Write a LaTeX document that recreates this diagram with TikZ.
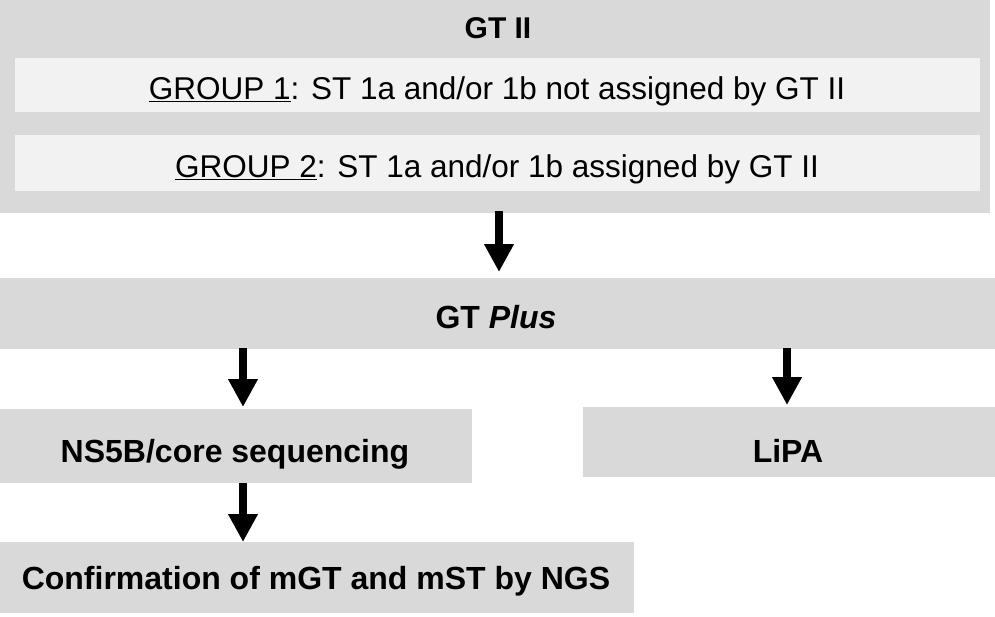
\documentclass[tikz,border=0pt]{standalone}
\usepackage{fontspec}
\setmainfont{Liberation Sans}
\usetikzlibrary{arrows.meta}
\definecolor{outergray}{HTML}{D9D9D9}
\definecolor{innergray}{HTML}{F2F2F2}
\tikzset{
  box/.style={fill=outergray, draw=none, anchor=north west, inner sep=0pt},
  inbox/.style={fill=innergray, draw=none, anchor=north west, inner sep=0pt},
  lbl/.style={font=\fontsize{32}{38}\selectfont\bfseries, inner sep=0pt, anchor=base},
  grp/.style={font=\fontsize{31.5}{38}\selectfont, inner sep=0pt, anchor=base},
  bigarrow/.style={-{Triangle[width=28pt,length=28pt]}, line width=8pt, black}
}
\newcommand{\ulgrp}[1]{\underline{#1}}
\begin{document}
\begin{tikzpicture}[x=1pt,y=-1pt]
\useasboundingbox (0,0) rectangle (995,616);
% GT II outer box
\node[box, minimum width=990pt, minimum height=213pt] (gt2) at (0,0) {};
\node[lbl, font=\fontsize{30}{36}\selectfont\bfseries] (gt2t) at (498,38) {GT II};
\node[inbox, minimum width=965pt, minimum height=54pt] (g1) at (15,58) {};
\node[grp] (g1t) at (497,99) {\ulgrp{GROUP 1}: ST 1a and/or 1b not assigned by GT II};
\node[inbox, minimum width=965pt, minimum height=56pt] (g2) at (15,135) {};
\node[grp] (g2t) at (497,177) {\ulgrp{GROUP 2}: ST 1a and/or 1b assigned by GT II};
% GT Plus
\node[box, minimum width=995pt, minimum height=71pt] (gtp) at (0,278) {};
\node[lbl] (gtpt) at (496,328) {GT \textit{Plus}};
% NS5B
\node[box, minimum width=472pt, minimum height=74pt] (ns) at (0,409) {};
\node[lbl] (nst) at (235,462) {NS5B/core sequencing};
% LiPA
\node[box, minimum width=412pt, minimum height=70pt] (lipa) at (583,407) {};
\node[lbl] (lipat) at (788,462) {LiPA};
% Confirmation
\node[box, minimum width=634pt, minimum height=71pt] (conf) at (0,542) {};
\node[lbl] (conft) at (316,589) {Confirmation of mGT and mST by NGS};
% arrows
\coordinate (a1s) at (499,211);
\coordinate (a1e) at (499,272);
\draw[bigarrow] (a1s) -- (a1e);
\coordinate (a2s) at (243,348);
\coordinate (a2e) at (243,407);
\draw[bigarrow] (a2s) -- (a2e);
\coordinate (a3s) at (787,348);
\coordinate (a3e) at (787,405);
\draw[bigarrow] (a3s) -- (a3e);
\coordinate (a4s) at (243,483);
\coordinate (a4e) at (243,542);
\draw[bigarrow] (a4s) -- (a4e);
\end{tikzpicture}
\end{document}
